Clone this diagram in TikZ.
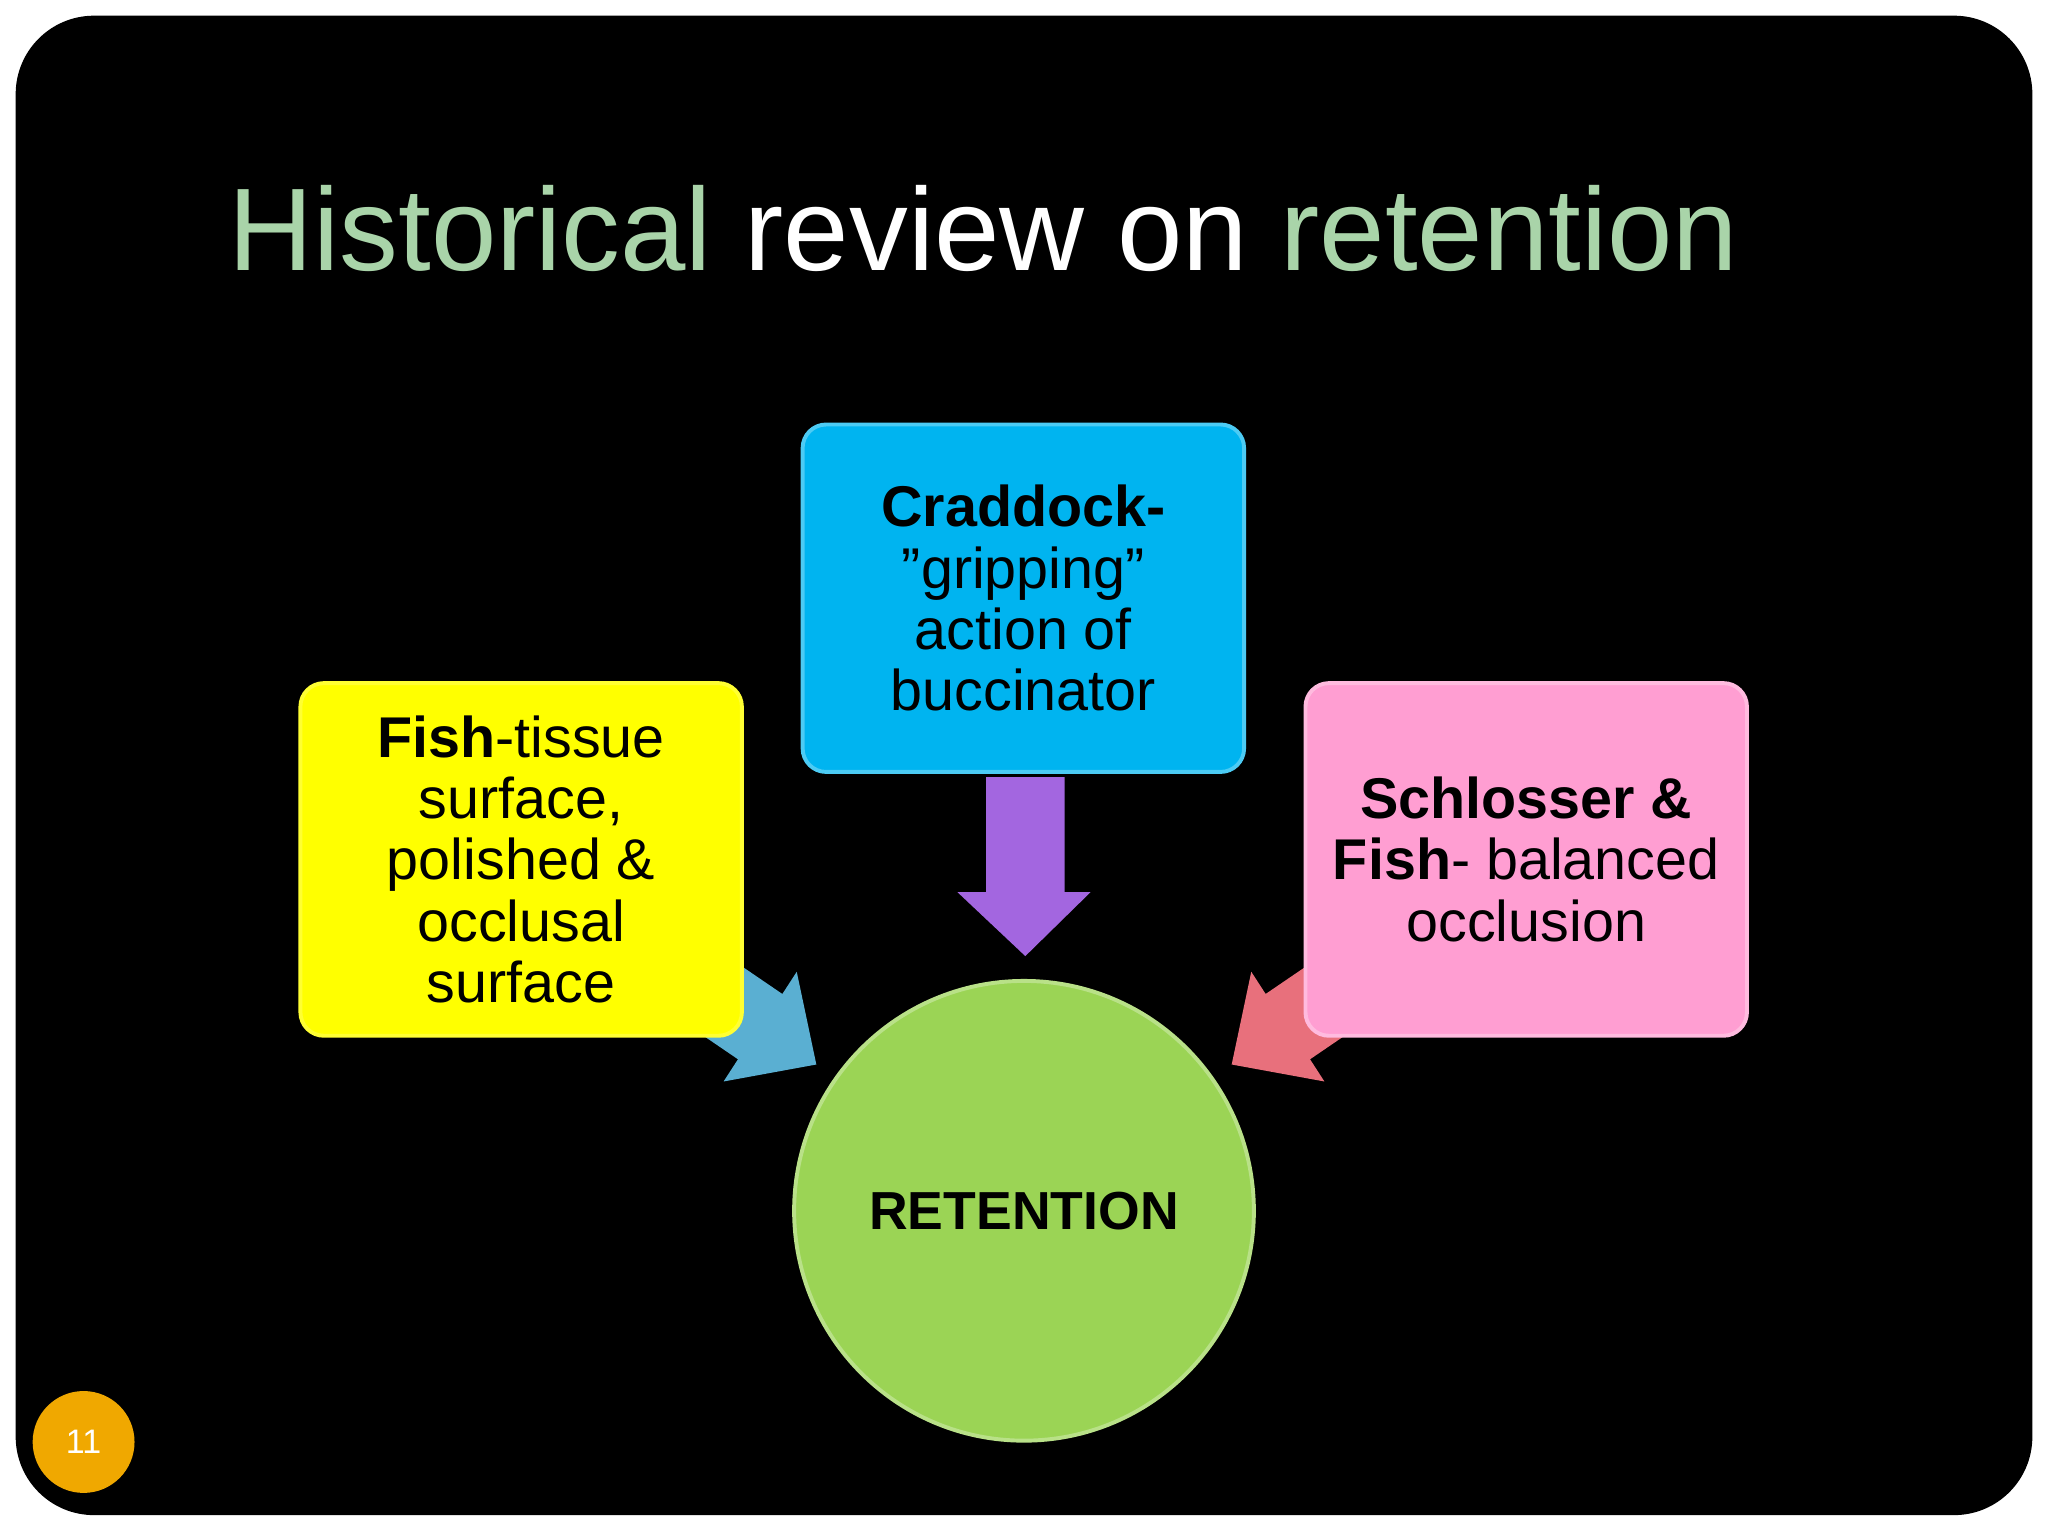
\documentclass[tikz,border=0pt]{standalone}
\usepackage{fontspec}
\setmainfont{Liberation Sans}
\definecolor{tgreen}{HTML}{A9D4A9}
\definecolor{cblue}{HTML}{00B4F0}
\definecolor{cyel}{HTML}{FFFF00}
\definecolor{cpink}{HTML}{FF9ED2}
\definecolor{cgreen}{HTML}{9BD455}
\definecolor{cpurp}{HTML}{A366E0}
\definecolor{ablue}{HTML}{5AAFD2}
\definecolor{apink}{HTML}{E8707C}
\definecolor{corange}{HTML}{F0A800}
\begin{document}
\begin{tikzpicture}[x=1pt,y=-1pt,
  box/.style={rounded corners=18pt,minimum width=338pt,minimum height=268pt,align=center,inner sep=4pt,font=\fontsize{44}{47}\selectfont,line width=3pt},
]
\useasboundingbox (0,0) rectangle (1568,1176);
\fill[white] (0,0) rectangle (1568,1176);
\fill[black,rounded corners=60pt] (12,12) rectangle (1556,1160);
\node[anchor=base west,inner sep=0,font=\fontsize{90}{90}\selectfont] (title) at (175,207)
 {\textcolor{tgreen}{Historical} \textcolor{white}{review on} \textcolor{tgreen}{retention}};
% arrows
\fill[cpurp] (755,595) -- (815,595) -- (815,683) -- (835,683) -- (785,732) -- (733,683) -- (755,683) -- cycle;
\fill[ablue] (533,716) -- (599,761) -- (610,744) -- (625,815) -- (554,828) -- (565,811) -- (499,766) -- cycle;
\fill[apink] (1035,716) -- (969,761) -- (958,744) -- (943,815) -- (1014,828) -- (1003,811) -- (1069,766) -- cycle;
% boxes
\node[box,fill=cblue,draw=cblue!70!white,minimum height=266pt] (crad) at (783.5,458)
 {\textbf{Craddock-}\\"gripping"\\action of\\buccinator};
\node[box,fill=cyel,draw=cyel!80!white,minimum height=270pt] (fish) at (399,658)
 {\textbf{Fish}-tissue\\surface,\\polished \&\\occlusal\\surface};
\node[box,fill=cpink,draw=cpink!70!white,minimum height=270pt] (schl) at (1168.5,658)
 {\textbf{Schlosser \&}\\\textbf{Fish}- balanced\\occlusion};
\node[circle,fill=cgreen,draw=cgreen!70!white,line width=3pt,minimum size=352pt,font=\fontsize{41}{44}\selectfont\bfseries] (ret) at (784,927) {RETENTION};
\node[circle,fill=corange,minimum size=78pt,text=white,font=\fontsize{26}{28}\selectfont] (pg) at (64,1104) {11};
\end{tikzpicture}
\end{document}
